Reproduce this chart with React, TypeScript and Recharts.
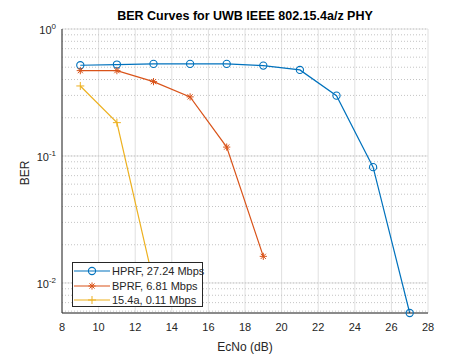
import React from 'react';
import { LineChart, Line, XAxis, YAxis, CartesianGrid } from 'recharts';

const ecno = [9, 11, 13, 15, 17, 19, 21, 23, 25, 27];
const berHprf = [0.518, 0.525, 0.531, 0.531, 0.531, 0.515, 0.476, 0.2985, 0.0817, 0.0058];
const berBprf = [0.47, 0.47, 0.385, 0.292, 0.1175, 0.0162];
const ber154a = [0.356, 0.183, 0.0102];

const seriesNames = ['HPRF, 27.24 Mbps', 'BPRF, 6.81 Mbps', '15.4a, 0.11 Mbps'];

const xTicks = [8, 10, 12, 14, 16, 18, 20, 22, 24, 26, 28];
const yTicks = [0.01, 0.1, 1];
const yTickExp = ['-2', '-1', '0'];
const yMinorTicks = [
  0.006, 0.007, 0.008, 0.009, 0.01,
  0.02, 0.03, 0.04, 0.05, 0.06, 0.07, 0.08, 0.09, 0.1,
  0.2, 0.3, 0.4, 0.5, 0.6, 0.7, 0.8, 0.9, 1,
];

const data = ecno.map((x, i) => ({
  ecno: x,
  hprf: berHprf[i],
  bprf: berBprf[i] ?? null,
  a154: ber154a[i] ?? null,
}));

const BLUE = '#0072BD';
const ORANGE = '#D95319';
const YELLOW = '#EDB120';
const AXIS = '#262626';
const FONT = '"Liberation Sans", Arial, Helvetica, sans-serif';
const Y_DOMAIN = [0.0058, 1];

const circleMark = (cx: number, cy: number, color: string) => (
  <circle cx={cx} cy={cy} r={3.6} fill="none" stroke={color} strokeWidth={1.1} />
);
const starMark = (cx: number, cy: number, color: string) => {
  const s = 3.6;
  const d = s * 0.72;
  return (
    <g stroke={color} strokeWidth={1}>
      <line x1={cx - s} y1={cy} x2={cx + s} y2={cy} />
      <line x1={cx} y1={cy - s} x2={cx} y2={cy + s} />
      <line x1={cx - d} y1={cy - d} x2={cx + d} y2={cy + d} />
      <line x1={cx - d} y1={cy + d} x2={cx + d} y2={cy - d} />
    </g>
  );
};
const plusMark = (cx: number, cy: number, color: string) => {
  const s = 4;
  return (
    <g stroke={color} strokeWidth={1}>
      <line x1={cx - s} y1={cy} x2={cx + s} y2={cy} />
      <line x1={cx} y1={cy - s} x2={cx} y2={cy + s} />
    </g>
  );
};

const makeDot = (mark: typeof circleMark, color: string) => (props: any) => {
  const { cx, cy, index, value } = props;
  if (cx == null || cy == null || value == null) return <g key={`d${index}`} />;
  return <g key={`d${index}`}>{mark(cx, cy, color)}</g>;
};

const XTick = ({ x, y, payload }: any) => (
  <text x={x} y={y + 18} textAnchor="middle" fontSize={11} fill={AXIS} fontFamily={FONT}>
    {payload.value}
  </text>
);

const YTick = ({ x, y, payload }: any) => {
  const idx = yTicks.indexOf(payload.value);
  return (
    <text x={x - 6} y={y + 5} textAnchor="end" fontSize={11} fill={AXIS} fontFamily={FONT}>
      <tspan>10</tspan>
      <tspan dy={-5} fontSize={8}>{yTickExp[idx]}</tspan>
    </text>
  );
};

const legendRows = [
  { name: seriesNames[0], color: BLUE, mark: circleMark },
  { name: seriesNames[1], color: ORANGE, mark: starMark },
  { name: seriesNames[2], color: YELLOW, mark: plusMark },
];

export default function App() {
  return (
    <div style={{ position: 'absolute', left: 0, top: 0, width: 474, height: 355, background: '#fff', fontFamily: FONT }}>
      <LineChart width={474} height={355} data={data} margin={{ top: 29, right: 46, bottom: 0, left: 0 }}>
        <CartesianGrid xAxisId="x" yAxisId="y" stroke="#e0e0e0" strokeWidth={1} />
        <CartesianGrid
          xAxisId="x"
          yAxisId="y"
          vertical={false}
          horizontalValues={yMinorTicks}
          stroke="#c4c4c4"
          strokeDasharray="1 2"
        />
        <XAxis
          xAxisId="x"
          dataKey="ecno"
          type="number"
          domain={[8, 28]}
          ticks={xTicks}
          interval={0}
          height={42}
          tickSize={0}
          tickMargin={0}
          tickLine={false}
          axisLine={{ stroke: AXIS }}
          tick={<XTick />}
          label={{ value: 'EcNo (dB)', position: 'insideBottom', offset: 4, fontSize: 12, fill: AXIS, fontFamily: FONT }}
        />
        <XAxis xAxisId="xb" type="number" domain={[8, 28]} ticks={xTicks} interval={0} orientation="bottom" mirror height={0} tickSize={3} tick={false} tickLine={{ stroke: AXIS }} axisLine={false} />
        <XAxis xAxisId="xt" type="number" domain={[8, 28]} ticks={xTicks} interval={0} orientation="top" mirror height={0} tickSize={3} tick={false} tickLine={{ stroke: AXIS }} axisLine={{ stroke: AXIS }} />
        <YAxis
          yAxisId="y"
          scale="log"
          type="number"
          domain={Y_DOMAIN}
          ticks={yTicks}
          interval={0}
          width={62}
          tickSize={0}
          tickMargin={0}
          tickLine={false}
          axisLine={{ stroke: AXIS }}
          tick={<YTick />}
        />
        <YAxis yAxisId="yl" scale="log" type="number" domain={Y_DOMAIN} allowDataOverflow ticks={yMinorTicks} interval={0} orientation="left" mirror width={0} tickSize={3} tick={false} tickLine={{ stroke: AXIS }} axisLine={false} />
        <YAxis yAxisId="yr" scale="log" type="number" domain={Y_DOMAIN} allowDataOverflow ticks={yMinorTicks} interval={0} orientation="right" mirror width={0} tickSize={3} tick={false} tickLine={{ stroke: AXIS }} axisLine={{ stroke: AXIS }} />
        <Line xAxisId="x" yAxisId="y" dataKey="hprf" stroke={BLUE} strokeWidth={1.2} dot={makeDot(circleMark, BLUE)} activeDot={false} isAnimationActive={false} />
        <Line xAxisId="x" yAxisId="y" dataKey="bprf" stroke={ORANGE} strokeWidth={1.2} dot={makeDot(starMark, ORANGE)} activeDot={false} isAnimationActive={false} />
        <Line xAxisId="x" yAxisId="y" dataKey="a154" stroke={YELLOW} strokeWidth={1.2} dot={makeDot(plusMark, YELLOW)} activeDot={false} isAnimationActive={false} />
      </LineChart>

      <div style={{ position: 'absolute', left: 0, top: 8, width: 490, textAlign: 'center', fontSize: 12.5, fontWeight: 'bold', lineHeight: '16px', color: '#000' }}>
        BER Curves for UWB IEEE 802.15.4a/z PHY
      </div>
      <div style={{ position: 'absolute', left: 25, top: 173, transform: 'translate(-50%, -50%) rotate(-90deg)', fontSize: 12, color: AXIS, whiteSpace: 'nowrap' }}>
        BER
      </div>

      <div style={{ position: 'absolute', left: 72, top: 262, width: 131, height: 45, boxSizing: 'border-box', border: `1px solid ${AXIS}`, background: '#fff' }}>
        {legendRows.map((r, i) => (
          <div key={r.name} style={{ position: 'absolute', left: 0, top: 1 + i * 14.5, height: 14, width: 129 }}>
            <svg width={36} height={14} style={{ position: 'absolute', left: 1, top: 0 }}>
              <line x1={0} y1={7} x2={36} y2={7} stroke={r.color} strokeWidth={1.2} />
              {r.mark(18, 7, r.color)}
            </svg>
            <span style={{ position: 'absolute', left: 39, top: 0, fontSize: 11, lineHeight: '14px', color: AXIS, whiteSpace: 'nowrap' }}>
              {r.name}
            </span>
          </div>
        ))}
      </div>
    </div>
  );
}
